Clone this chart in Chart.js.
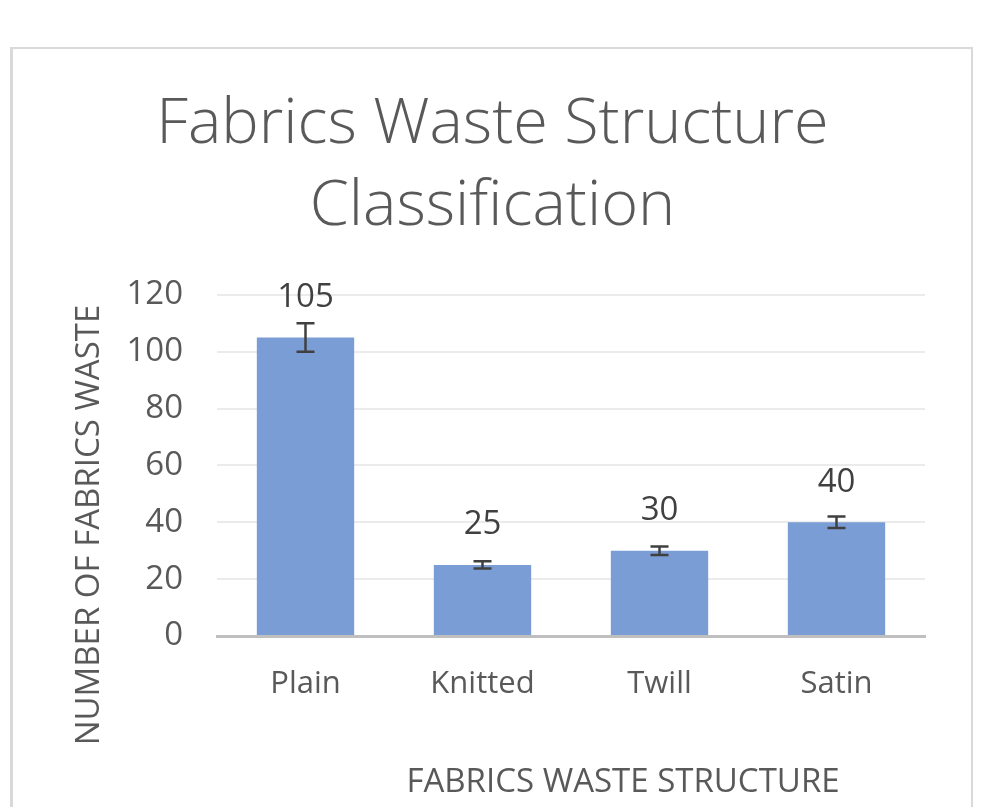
<!DOCTYPE html>
<html>
<head>
<meta charset="utf-8">
<script src="https://cdn.jsdelivr.net/npm/chart.js@4"></script>
<style>
  html, body { margin: 0; padding: 0; background: #fff; overflow: hidden; }
  #frame { position: absolute; left: 10px; top: 47px; width: 958px; height: 800px; border: 2px solid #d9d9d9; border-left-width: 3px; }
  #wrap { position: absolute; left: 0; top: 0; width: 982px; height: 807px; }
</style>
</head>
<body>
<div id="frame"></div>
<div id="wrap"><canvas id="chart"></canvas></div>
<script>
const categories = ['Plain', 'Knitted', 'Twill', 'Satin'];
const wasteCounts = [105, 25, 30, 40];
const errorAmounts = [5, 1.25, 1.5, 2]; // 5% error bars
const yTicks = [0, 20, 40, 60, 80, 100, 120];

const chartTitle = ['Fabrics Waste Structure', 'Classification'];
const xTitle = 'FABRICS WASTE STRUCTURE';
const yTitle = 'NUMBER OF FABRICS WASTE';

const FONT = '"Open Sans", "Liberation Sans", sans-serif';

// error bars + value labels drawn off the scales
const extrasPlugin = {
  id: 'extras',
  afterDatasetsDraw(chart) {
    const ctx = chart.ctx;
    const meta = chart.getDatasetMeta(0);
    const yScale = chart.scales.y;
    ctx.save();
    ctx.strokeStyle = '#404040';
    ctx.lineWidth = 2.5;
    meta.data.forEach((bar, i) => {
      const v = wasteCounts[i];
      const top = yScale.getPixelForValue(v + errorAmounts[i]);
      const bot = yScale.getPixelForValue(v - errorAmounts[i]);
      ctx.beginPath();
      ctx.moveTo(bar.x, top); ctx.lineTo(bar.x, bot);
      ctx.moveTo(bar.x - 9, top); ctx.lineTo(bar.x + 9, top);
      ctx.moveTo(bar.x - 9, bot); ctx.lineTo(bar.x + 9, bot);
      ctx.stroke();
    });
    ctx.fillStyle = '#404040';
    ctx.font = '33px ' + FONT;
    ctx.textAlign = 'center';
    ctx.textBaseline = 'middle';
    meta.data.forEach((bar, i) => {
      ctx.fillText(String(wasteCounts[i]), bar.x, bar.y - 40);
    });

    // axis titles
    const area = chart.chartArea;
    ctx.fillStyle = '#595959';
    ctx.font = '33px ' + FONT;
    ctx.fillText(xTitle, 623, area.bottom + 147);
    ctx.translate(90, area.bottom - 111);
    ctx.rotate(-Math.PI / 2);
    ctx.fillText(yTitle, 0, 0);
    ctx.restore();
  }
};

new Chart(document.getElementById('chart'), {
  type: 'bar',
  data: {
    labels: categories,
    datasets: [{
      data: wasteCounts,
      backgroundColor: '#7a9dd5',
      categoryPercentage: 0.55,
      barPercentage: 1
    }]
  },
  options: {
    responsive: true,
    maintainAspectRatio: false,
    animation: false,
    layout: { padding: { left: 60, right: 57, top: 0, bottom: 51 } },
    plugins: {
      legend: { display: false },
      tooltip: { enabled: false },
      title: {
        display: true,
        text: chartTitle,
        color: '#595959',
        font: { family: FONT, size: 63, weight: '300', lineHeight: 1.3 },
        padding: { top: 84, bottom: 47 }
      }
    },
    scales: {
      x: {
        grid: { display: false, drawTicks: false },
        border: { color: '#bfbfbf', width: 3 },
        ticks: { color: '#595959', font: { family: FONT, size: 31 }, padding: 30 },
        afterFit(scale) { scale.height = 120; }
      },
      y: {
        min: 0,
        max: 120,
        afterBuildTicks(scale) { scale.ticks = yTicks.map(v => ({ value: v })); },
        grid: { color: '#ebebeb', lineWidth: 2, drawTicks: false },
        border: { display: false },
        ticks: { color: '#595959', font: { family: FONT, size: 33 }, padding: 34 },
        afterFit(scale) { scale.width = 157; }
      }
    }
  },
  plugins: [extrasPlugin]
});
</script>
</body>
</html>
